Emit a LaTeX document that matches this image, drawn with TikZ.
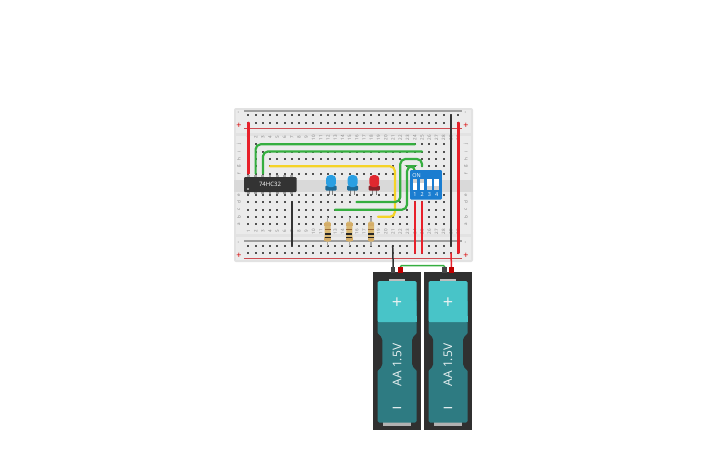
\documentclass[tikz,border=0pt]{standalone}
\usepackage{fontspec}
\setmainfont{Open Sans}
\definecolor{boardc}{HTML}{E2E2E2}
\definecolor{panel}{HTML}{EBEBEB}
\definecolor{chan}{HTML}{D9D9D9}
\definecolor{holec}{HTML}{505050}
\definecolor{wgreen}{HTML}{35AE3F}
\definecolor{wred}{HTML}{E8202A}
\definecolor{wyellow}{HTML}{F5D327}
\definecolor{wblack}{HTML}{333333}
\definecolor{railred}{HTML}{CC4A50}
\definecolor{labc}{HTML}{808080}
\definecolor{hold}{HTML}{303030}
\definecolor{celll}{HTML}{48C4C8}
\definecolor{celld}{HTML}{2E7B82}
\definecolor{dipb}{HTML}{1B7DD0}
\definecolor{ledb}{HTML}{2A9FE2}
\definecolor{ledbd}{HTML}{1E6A96}
\definecolor{ledr}{HTML}{E0282F}
\definecolor{ledrd}{HTML}{8A2228}
\definecolor{resb}{HTML}{D9B873}
\tikzset{
  wire/.style={line width=2.2pt,rounded corners=5pt,line cap=round},
  tinylab/.style={font=\fontsize{4.5}{5}\selectfont,text=labc,inner sep=0pt,rotate=90},
}
\newcommand{\holerow}[1]{\foreach \i in {0,...,29}{\fill[holec] ({248.4+7.23*\i-1},{#1-1}) rectangle +(2,2);}}
\newcommand{\resistor}[1]{
  \draw[line width=1.1pt,gray!70] (#1,217) -- (#1,246);
  \fill[resb,rounded corners=1.5pt] (#1-3,221.5) rectangle (#1+3,241.5);
  \fill[resb!80!brown] (#1-3.4,222.5) rectangle (#1+3.4,226);
  \fill[resb!80!brown] (#1-3.4,236.5) rectangle (#1+3.4,240.5);
  \fill[black!85] (#1-3,232.6) rectangle (#1+3,234.6);
  \fill[brown!80!black] (#1-3,229) rectangle (#1+3,230.4);
  \fill[black!85] (#1-3,236.6) rectangle (#1+3,238.2);
}
\newcommand{\led}[3]{
  \draw[line width=0.9pt,gray] (#1-1.8,188) -- (#1-1.8,195) (#1+1.8,188) -- (#1+1.8,195);
  \fill[#2,rounded corners=1pt] (#1-5.6,185.5) rectangle (#1+5.6,190.5);
  \fill[#3,rounded corners=3.5pt] (#1-4.9,187) -- (#1-4.9,175.2) -- (#1+4.9,175.2) -- (#1+4.9,187) -- cycle;
}
\newcommand{\holder}[1]{
  \fill[hold] (#1,272.3) rectangle (#1+47.8,430);
  \fill[gray!50] (#1+15.5,278.5) rectangle (#1+31.5,282);
  \fill[gray!60] (#1+10,422) rectangle (#1+37.5,425.5);
  \fill[celld,rounded corners=1.5pt] (#1+4.4,300) rectangle (#1+43.4,422.5);
  \fill[celll,rounded corners=1.5pt] (#1+4.4,322) -- (#1+4.4,281) -- (#1+43.4,281) -- (#1+43.4,322) -- cycle;
  \fill[celll] (#1+4.4,316) rectangle (#1+43.4,322);
  \fill[hold,rounded corners=2pt] (#1+2,331) -- (#1+9,338) -- (#1+9,366) -- (#1+2,373) -- cycle;
  \fill[hold,rounded corners=2pt] (#1+45.8,331) -- (#1+38.8,338) -- (#1+38.8,366) -- (#1+45.8,373) -- cycle;
  \node[text=white!90!celld,font=\fontsize{18}{18}\selectfont,inner sep=0pt] at (#1+23.8,303) {+};
  \node[text=white!90!celld,font=\fontsize{18}{18}\selectfont,inner sep=0pt] at (#1+23.8,411) {\char"2212};
  \node[text=white!90!celld,font=\fontsize{12}{12}\selectfont,inner sep=0pt,rotate=90] at (#1+23.8,365) {AA 1.5V};
}
\begin{document}
\begin{tikzpicture}[x=1pt,y=-1pt]
\useasboundingbox (0,0) rectangle (725,453);
\fill[white] (0,0) rectangle (725,453);
% board
\fill[boardc,rounded corners=2pt] (234,108) rectangle (473,262);
\fill[panel] (236,110) rectangle (471,133);
\fill[panel] (236,136) rectangle (471,180);
\fill[panel] (236,192) rectangle (471,234);
\fill[panel] (236,237) rectangle (471,260);
\fill[chan] (234,180) rectangle (473,192);
% rail lines
\draw[line width=1.6pt,gray!75] (244,111) -- (462,111);
\draw[line width=1.6pt,gray!75] (244,241) -- (462,241);
\draw[line width=0.9pt,railred] (244,128) -- (462,128);
\draw[line width=0.9pt,railred] (244,258.3) -- (462,258.3);
% holes
\foreach \r in {115.3,122.7,144.3,151.5,159,166.3,173.5,195,202,209.7,217,224,245.7,253}{\holerow{\r}}
% labels
\foreach \i in {1,...,30}{
  \node[tinylab] at ({248.4+7.23*(\i-1)},137.5) {\i};
  \node[tinylab] at ({248.4+7.23*(\i-1)},231.5) {\i};
}
\foreach \l/\y in {j/144.3,i/151.5,h/159,g/166.3,f/173.5,e/195,d/202,c/209.7,b/217,a/224}{
  \node[tinylab] at (239,\y) {\l};
  \node[tinylab] at (466,\y) {\l};
}
\foreach \x in {239,466}{
  \node[text=red!85!black,font=\fontsize{9}{9}\selectfont,inner sep=0pt] at (\x,126) {+};
  \node[text=red!85!black,font=\fontsize{9}{9}\selectfont,inner sep=0pt] at (\x,255.5) {+};
  \node[tinylab,font=\fontsize{6}{6}\selectfont] at (\x,113) {-};
  \node[tinylab,font=\fontsize{6}{6}\selectfont] at (\x,243) {-};
}
% IC pins and body
\foreach \i in {0,...,6}{
  \fill[gray!70] ({248.4+7.23*\i-1.4},174.5) rectangle +(2.8,3);
  \fill[gray!70] ({248.4+7.23*\i-1.4},191) rectangle +(2.8,3);
}
\fill[wblack,rounded corners=1pt] (244,177) rectangle (296.5,192);
\fill[white] (248,189) circle (0.9);
\node[text=white,font=\fontsize{6}{6}\selectfont,inner sep=0pt] at (270,184.5) {74HC32};
% LEDs
\led{331}{ledbd}{ledb}
\led{352.6}{ledbd}{ledb}
\led{374.3}{ledrd}{ledr}
% resistors
\resistor{327.6}
\resistor{349.3}
\resistor{371}
% wires
\draw[wire,wred] (248.4,122.7) -- (248.4,173.5);
\draw[wire,wgreen] (255.6,173.5) -- (255.6,144.3) -- (415,144.3);
\draw[wire,wgreen] (262.9,173.5) -- (262.9,151.5) -- (422,151.5);
\draw[wire,wyellow] (270,166.3) -- (395,166.3) -- (395,216.8) -- (378,216.8);
\draw[wire,wgreen] (422,166.3) -- (422,159) -- (400.3,159) -- (400.3,202) -- (356.5,202);
\draw[wire,wgreen] (415,173.5) -- (415,166.3) -- (407,166.3) -- (407,209.7) -- (335,209.7);
\draw[wire,wblack] (291.8,202) -- (291.8,245.7);
\draw[wire,wred] (415,202) -- (415,253);
\draw[wire,wred] (422,202) -- (422,253);
\draw[wire,wblack] (451,115.3) -- (451,245.7);
\draw[wire,wred] (458.5,122.7) -- (458.5,253);
% DIP
\fill[dipb,rounded corners=1pt] (410,170) rectangle (441.8,199.5);
\node[text=white,font=\fontsize{5.5}{5.5}\selectfont,inner sep=0pt] at (416.5,175.5) {ON};
\foreach \x/\n in {415/1,422.2/2}{
  \fill[gray!35] (\x-2.2,179.3) rectangle (\x+2.2,189.5);
  \fill[white] (\x-2.2,183) rectangle (\x+2.2,189.5);
  \node[text=white,font=\fontsize{5.5}{5.5}\selectfont,inner sep=0pt] at (\x,194.5) {\n};
}
\foreach \x/\n in {429.4/3,436.6/4}{
  \fill[gray!35] (\x-2.2,179.3) rectangle (\x+2.2,189.5);
  \fill[white] (\x-2.2,179.3) rectangle (\x+2.2,185.5);
  \node[text=white,font=\fontsize{5.5}{5.5}\selectfont,inner sep=0pt] at (\x,194.5) {\n};
}
% batteries
\holder{373.3}
\holder{424.2}
\draw[wire,wblack,line width=1.5pt] (392.7,245.7) -- (393.2,268);
\draw[wire,wred,line width=1.5pt] (451,253) -- (451.5,268);
\draw[line width=1.5pt,wgreen,rounded corners=1pt] (400.5,270) -- (400.5,265.6) -- (444.5,265.6) -- (444.5,270);
\foreach \x in {393,444.2}{\fill[hold!90!white] (\x-2.4,267) rectangle (\x+2.4,272.5);}
\foreach \x in {400.8,451.3}{\fill[red!75!black] (\x-2.4,267) rectangle (\x+2.4,272.5);}
\end{tikzpicture}
\end{document}
